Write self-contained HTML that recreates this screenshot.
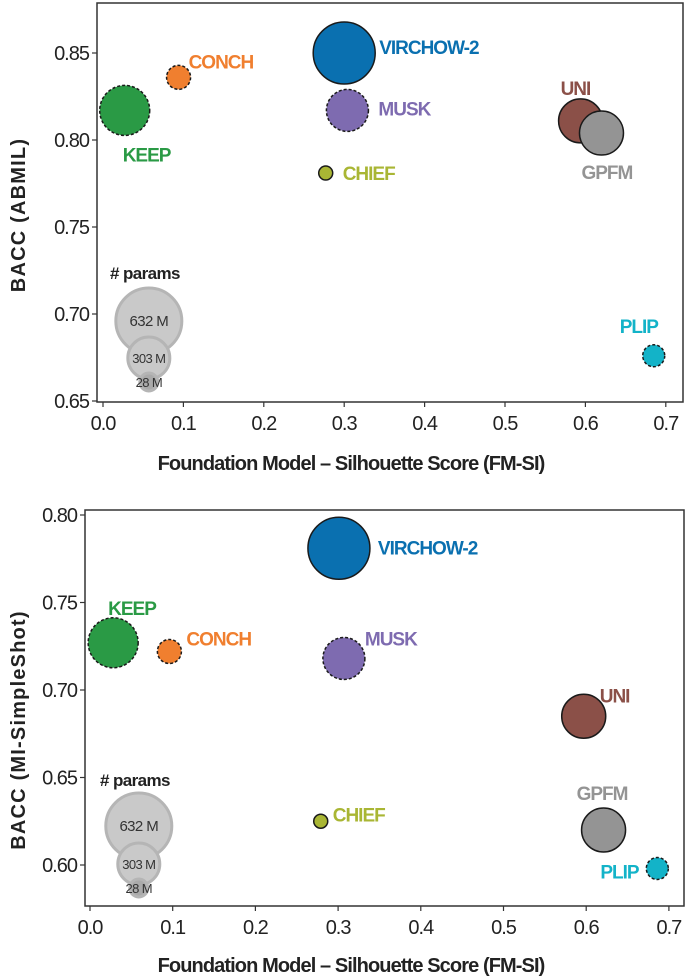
<!DOCTYPE html>
<html><head><meta charset="utf-8"><style>
html,body{margin:0;padding:0;background:#fff}
svg{display:block;font-family:"Liberation Sans",sans-serif}
</style></head><body>
<svg id="s" width="685" height="976" viewBox="0 0 685 976" xmlns="http://www.w3.org/2000/svg"></svg>
<script>
const models = ["VIRCHOW-2","CONCH","KEEP","MUSK","CHIEF","UNI","GPFM","PLIP"];
const colors = ["#0a70b0","#f07f2f","#2a9a45","#7e6bb0","#a9b634","#8b5048","#949494","#13b3c8"];
const dashed = [false,true,true,true,false,false,false,true];
const radii = [31,12,25,21,7,22,22,11];
const fmsi = [0.30,0.094,0.027,0.304,0.277,0.594,0.620,0.685];
const baccAbmil = [0.850,0.836,0.817,0.817,0.781,0.811,0.804,0.676];
const fmsi2 = [0.301,0.096,0.028,0.307,0.279,0.597,0.621,0.686];
const baccSimple = [0.781,0.722,0.727,0.718,0.625,0.685,0.620,0.598];
const xTicks = [0.0,0.1,0.2,0.3,0.4,0.5,0.6,0.7];
const yTicksTop = [0.65,0.70,0.75,0.80,0.85];
const yTicksBot = [0.60,0.65,0.70,0.75,0.80];
const legendLabels = ["632 M","303 M","28 M"];
const legendRadii = [33,21,9];

const NS="http://www.w3.org/2000/svg";
const svg=document.getElementById('s');
function mk(tag,attrs,parent){const e=document.createElementNS(NS,tag);for(const k in attrs)e.setAttribute(k,attrs[k]);(parent||svg).appendChild(e);return e;}

function chart(cfg){
  const g=mk('g',{});
  
  
  const X=v=>cfg.x0+v*cfg.xs, Y=v=>cfg.yRef-(v-cfg.yRefV)/0.05*cfg.ys;
  const f=mk('rect',{x:cfg.L,y:cfg.T,width:cfg.R-cfg.L,height:cfg.B-cfg.T,fill:'none',stroke:'#333','stroke-width':1.5},g);
  
  xTicks.forEach(t=>{
    mk('line',{x1:X(t),x2:X(t),y1:cfg.B,y2:cfg.B+5,stroke:'#333','stroke-width':1.2},g);
    const tx=mk('text',{x:X(t),y:cfg.B+28,'text-anchor':'middle','font-size':20,fill:'#222','letter-spacing':'-1'},g);
    tx.textContent=t.toFixed(1);
    
  });
  cfg.yTicks.forEach(t=>{
    mk('line',{x1:cfg.L-5,x2:cfg.L,y1:Y(t),y2:Y(t),stroke:'#333','stroke-width':1.2},g);
    const tx=mk('text',{x:cfg.L-8,y:Y(t)+7,'text-anchor':'end','font-size':20,fill:'#222','letter-spacing':'-1'},g);
    tx.textContent=t.toFixed(2);
    
  });
  const xt=mk('text',{x:351,y:cfg.xTitleY,'text-anchor':'middle','font-size':20,'font-weight':'bold',fill:'#222','letter-spacing':'-0.9'},g);
  xt.textContent='Foundation Model \u2013 Silhouette Score (FM-SI)';
  
  const yt=mk('text',{x:0,y:0,'text-anchor':'middle','font-size':20,'font-weight':'bold',fill:'#222','letter-spacing':'1.2',transform:`translate(25,${cfg.yTitleC}) rotate(-90)`},g);
  yt.textContent=cfg.yTitle;
  
  const lx=X(cfg.legX);
  const lt=mk('text',{x:cfg.legTextX,y:cfg.legTextY,'font-size':17,'font-weight':'bold',fill:'#222','letter-spacing':'-0.6'},g);
  lt.textContent='# params';
  
  legendLabels.forEach((l,i)=>{
    const c=mk('circle',{cx:lx,cy:cfg.legY[i],r:legendRadii[i],fill:i==2?'#aaaaaa':'#c9c9c9',stroke:'#b5b5b5','stroke-width':3},g);
    
    const t=mk('text',{x:lx,y:cfg.legY[i]+5,'text-anchor':'middle','font-size':i==0?15:13,fill:'#333','letter-spacing':'-0.6'},g);
    t.textContent=l;
    
  });
  models.forEach((m,i)=>{
    const cx=X(cfg.xv[i]),cy=Y(cfg.yv[i]);
    const c=mk('circle',{cx:cx,cy:cy,r:radii[i],fill:colors[i],stroke:'#1a1a1a','stroke-width':1.5},g);
    if(dashed[i])c.setAttribute('stroke-dasharray','3,2');
    
    
    const t=mk('text',{x:cx+cfg.off[i][0],y:cy+cfg.off[i][1]+7,'font-size':19,'font-weight':'bold',fill:colors[i],'letter-spacing':'-1'},g);
    t.textContent=m;
    
    
  });
}

chart({name:'chart-abmil',L:97,R:683,T:3,B:402,x0:103,xs:804,yRef:53,yRefV:0.85,ys:87,yTicks:yTicksTop,
  xv:fmsi,yv:baccAbmil,xTitleY:470,yTitle:'BACC (ABMIL)',yTitleC:215,
  legX:0.057,legY:[321,358,382],legTextX:110,legTextY:279,
  off:[[35,-6],[10,-16],[-2,44],[31,-2],[17,0],[-20,-33],[-20,39],[-34,-30]]});
chart({name:'chart-simpleshot',L:85,R:684,T:510,B:906,x0:90,xs:827,yRef:515,yRefV:0.80,ys:87.5,yTicks:yTicksBot,
  xv:fmsi2,yv:baccSimple,xTitleY:972,yTitle:'BACC (MI-SimpleShot)',yTitleC:730,
  legX:0.059,legY:[826,864,888],legTextX:100,legTextY:786,
  off:[[39,-1],[17,-13],[-5,-35],[21,-20],[12,-7],[16,-21],[-27,-37],[-57,3]]});
</script>
</body></html>
